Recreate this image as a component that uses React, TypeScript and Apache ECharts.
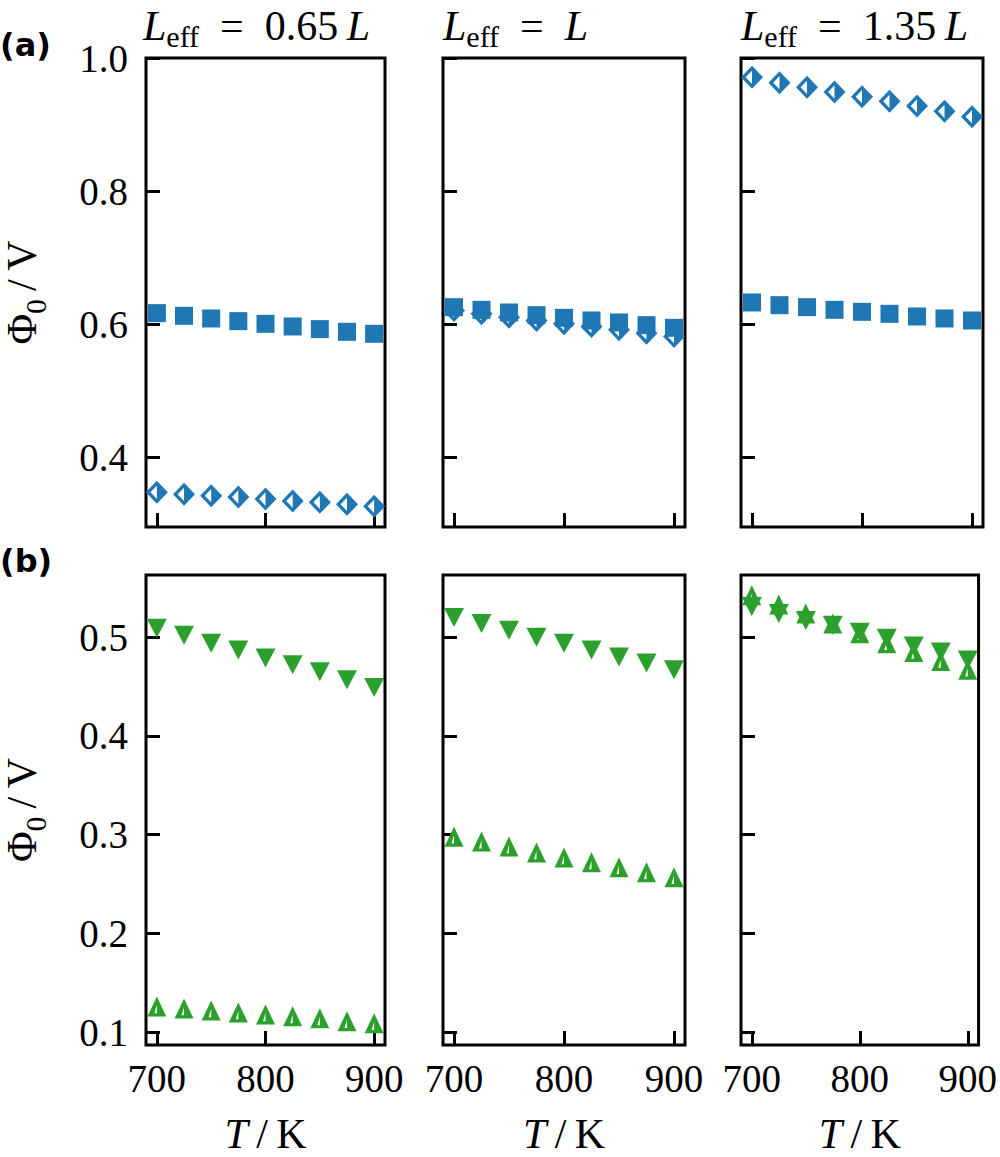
import React, { useEffect, useRef } from "react";
import * as echarts from "echarts";

const temps = [700, 725, 750, 775, 800, 825, 850, 875, 900];

// Panel (a): Phi0 / V, blue
const a065Squares = [0.617, 0.613, 0.609, 0.605, 0.601, 0.597, 0.593, 0.589, 0.586];
const a065Diamonds = [0.348, 0.345, 0.343, 0.341, 0.338, 0.335, 0.333, 0.330, 0.327];
const a1Squares = [0.626, 0.622, 0.618, 0.614, 0.610, 0.606, 0.603, 0.599, 0.595];
const a1Diamonds = [0.621, 0.616, 0.611, 0.606, 0.601, 0.597, 0.592, 0.587, 0.582];
const a135Squares = [0.633, 0.629, 0.626, 0.622, 0.619, 0.616, 0.612, 0.609, 0.606];
const a135Diamonds = [0.971, 0.963, 0.956, 0.949, 0.942, 0.935, 0.928, 0.920, 0.912];

// Panel (b): Phi0 / V, green
const b065Down = [0.509, 0.502, 0.494, 0.487, 0.479, 0.472, 0.465, 0.457, 0.449];
const b065Up = [0.126, 0.124, 0.122, 0.120, 0.118, 0.116, 0.114, 0.111, 0.109];
const b1Down = [0.520, 0.514, 0.507, 0.500, 0.494, 0.487, 0.480, 0.474, 0.467];
const b1Up = [0.298, 0.293, 0.288, 0.282, 0.277, 0.272, 0.267, 0.262, 0.257];
const b135Down = [0.531, 0.524, 0.517, 0.512, 0.505, 0.499, 0.491, 0.485, 0.477];
const b135Up = [0.5425, 0.533, 0.524, 0.514, 0.504, 0.494, 0.485, 0.476, 0.467];

const xTicks = [700, 800, 900];
const yTicksA = [0.4, 0.6, 0.8, 1.0];
const yTicksB = [0.1, 0.2, 0.3, 0.4, 0.5];
const colTitles = ["0.65\u2009", "", "1.35\u2009"];

const BLUE = "#1f77b4";
const GREEN = "#2ca02c";
const SERIF = "'Liberation Serif', 'DejaVu Serif', serif";

const DIAMOND = "path://M50 0L100 50L50 100L0 50Z M50 21L21 50L50 79Z";
const UPTRI = "path://M50 0L100 100L0 100Z M50 42L37 84L50 84Z";

const pair = (ys: number[]) => temps.map((t, i) => [t, ys[i]]);

export default function App() {
  const ref = useRef<HTMLDivElement>(null);
  useEffect(() => {
    const chart = echarts.init(ref.current!, null, { renderer: "svg" });
    const colLefts = [143, 443, 741];
    const rowTops = [58, 575];
    const rowHeights = [469, 470];
    const grids: any[] = [];
    const xAxes: any[] = [];
    const yAxes: any[] = [];
    const tickStyle = { show: true, inside: true, length: 14, lineStyle: { color: "#000", width: 3 } };
    const labelStyle = { color: "#000", fontFamily: SERIF, fontSize: 39 };
    for (let r = 0; r < 2; r++) {
      for (let c = 0; c < 3; c++) {
        grids.push({
          left: colLefts[c], top: rowTops[r], width: 242, height: rowHeights[r],
          show: true, borderColor: "#000", borderWidth: 3, backgroundColor: "transparent",
        });
        const idx = r * 3 + c;
        xAxes.push({
          type: "value", gridIndex: idx, min: 690, max: 910,
          axisLine: { show: false, onZero: false },
          splitLine: { show: false },
          axisTick: { ...tickStyle, customValues: xTicks },
          axisLabel: { ...labelStyle, show: r === 1, customValues: xTicks, margin: 14 },
          name: r === 1 ? "{i|T}{n|\u2009/\u2009K}" : "",
          nameLocation: "middle",
          nameGap: 68,
          nameTextStyle: {
            rich: {
              i: { fontFamily: SERIF, fontStyle: "italic", fontSize: 42, color: "#000" },
              n: { fontFamily: SERIF, fontSize: 42, color: "#000" },
            },
          },
        });
        const yt = r === 0 ? yTicksA : yTicksB;
        yAxes.push({
          type: "value", gridIndex: idx,
          min: r === 0 ? 0.296 : 0.087, max: r === 0 ? 1.0 : 0.563,
          axisLine: { show: false, onZero: false },
          splitLine: { show: false },
          axisTick: { ...tickStyle, customValues: yt },
          axisLabel: { ...labelStyle, show: c === 0, customValues: yt, margin: 18, formatter: (v: number) => v.toFixed(1) },
          name: c === 0 ? "{n|Φ}{s|0}{n|\u2009/\u2009V}" : "",
          nameLocation: "middle",
          nameGap: 97,
          nameTextStyle: {
            rich: {
              n: { fontFamily: SERIF, fontSize: 42, lineHeight: 48, color: "#000", verticalAlign: "top" },
              s: { fontFamily: SERIF, fontSize: 29, lineHeight: 33, padding: [20, 0, 0, 0], color: "#000", verticalAlign: "top" },
            },
          },
        });
      }
    }
    const sc = (idx: number, ys: number[], symbol: string, size: any, color: string, rotate = 0) => ({
      type: "scatter", xAxisIndex: idx, yAxisIndex: idx, data: pair(ys),
      symbol, symbolSize: size, symbolRotate: rotate, symbolKeepAspect: false,
      itemStyle: { color, opacity: 1 },
      emphasis: { disabled: true },
    });
    const series = [
      sc(0, a065Diamonds, DIAMOND, [22, 23], BLUE),
      sc(0, a065Squares, "rect", [18, 18], BLUE),
      sc(1, a1Diamonds, DIAMOND, [22, 23], BLUE),
      sc(1, a1Squares, "rect", [18, 18], BLUE),
      sc(2, a135Diamonds, DIAMOND, [22, 23], BLUE),
      sc(2, a135Squares, "rect", [18, 18], BLUE),
      sc(3, b065Down, "triangle", [20, 19], GREEN, 180),
      sc(3, b065Up, UPTRI, [19, 20], GREEN),
      sc(4, b1Down, "triangle", [20, 19], GREEN, 180),
      sc(4, b1Up, UPTRI, [19, 20], GREEN),
      sc(5, b135Down, "triangle", [20, 19], GREEN, 180),
      sc(5, b135Up, UPTRI, [19, 20], GREEN),
    ];

    // Column titles built from separate text pieces (main + subscript)
    const ctx = document.createElement("canvas").getContext("2d")!;
    const fonts: Record<string, { font: string; size: number; style: string; dy: number }> = {
      i: { font: "italic 42px 'Liberation Serif'", size: 42, style: "italic", dy: 0 },
      n: { font: "42px 'Liberation Serif'", size: 42, style: "normal", dy: 0 },
      s: { font: "30px 'Liberation Serif'", size: 30, style: "normal", dy: 10 },
    };
    const graphics: any[] = [];
    colTitles.forEach((t, c) => {
      const pieces: [string, string][] = [["L", "i"], ["eff", "s"], ["\u2002=\u2002" + t, "n"], ["L", "i"]];
      let x = colLefts[c];
      pieces.forEach(([txt, k]) => {
        const f = fonts[k];
        ctx.font = f.font;
        graphics.push({
          type: "text", x, y: 26 + f.dy,
          style: {
            text: txt, fontFamily: SERIF, fontSize: f.size, fontStyle: f.style,
            fill: "#000", align: "left", verticalAlign: "middle",
          },
        });
        x += ctx.measureText(txt).width;
      });
    });
    graphics.push(
      { type: "text", left: 0, top: 29, style: { text: "(a)", fontFamily: "'DejaVu Sans', sans-serif", fontWeight: "bold", fontSize: 32, fill: "#000" } },
      { type: "text", left: 0, top: 545, style: { text: "(b)", fontFamily: "'DejaVu Sans', sans-serif", fontWeight: "bold", fontSize: 32, fill: "#000" } },
    );
    chart.setOption({
      animation: false,
      grid: grids,
      xAxis: xAxes,
      yAxis: yAxes,
      series,
      graphic: graphics,
    });
    return () => chart.dispose();
  }, []);
  return (
    <div
      ref={ref}
      style={{ position: "absolute", left: 0, top: 0, width: 1000, height: 1157, background: "#fff" }}
    />
  );
}
